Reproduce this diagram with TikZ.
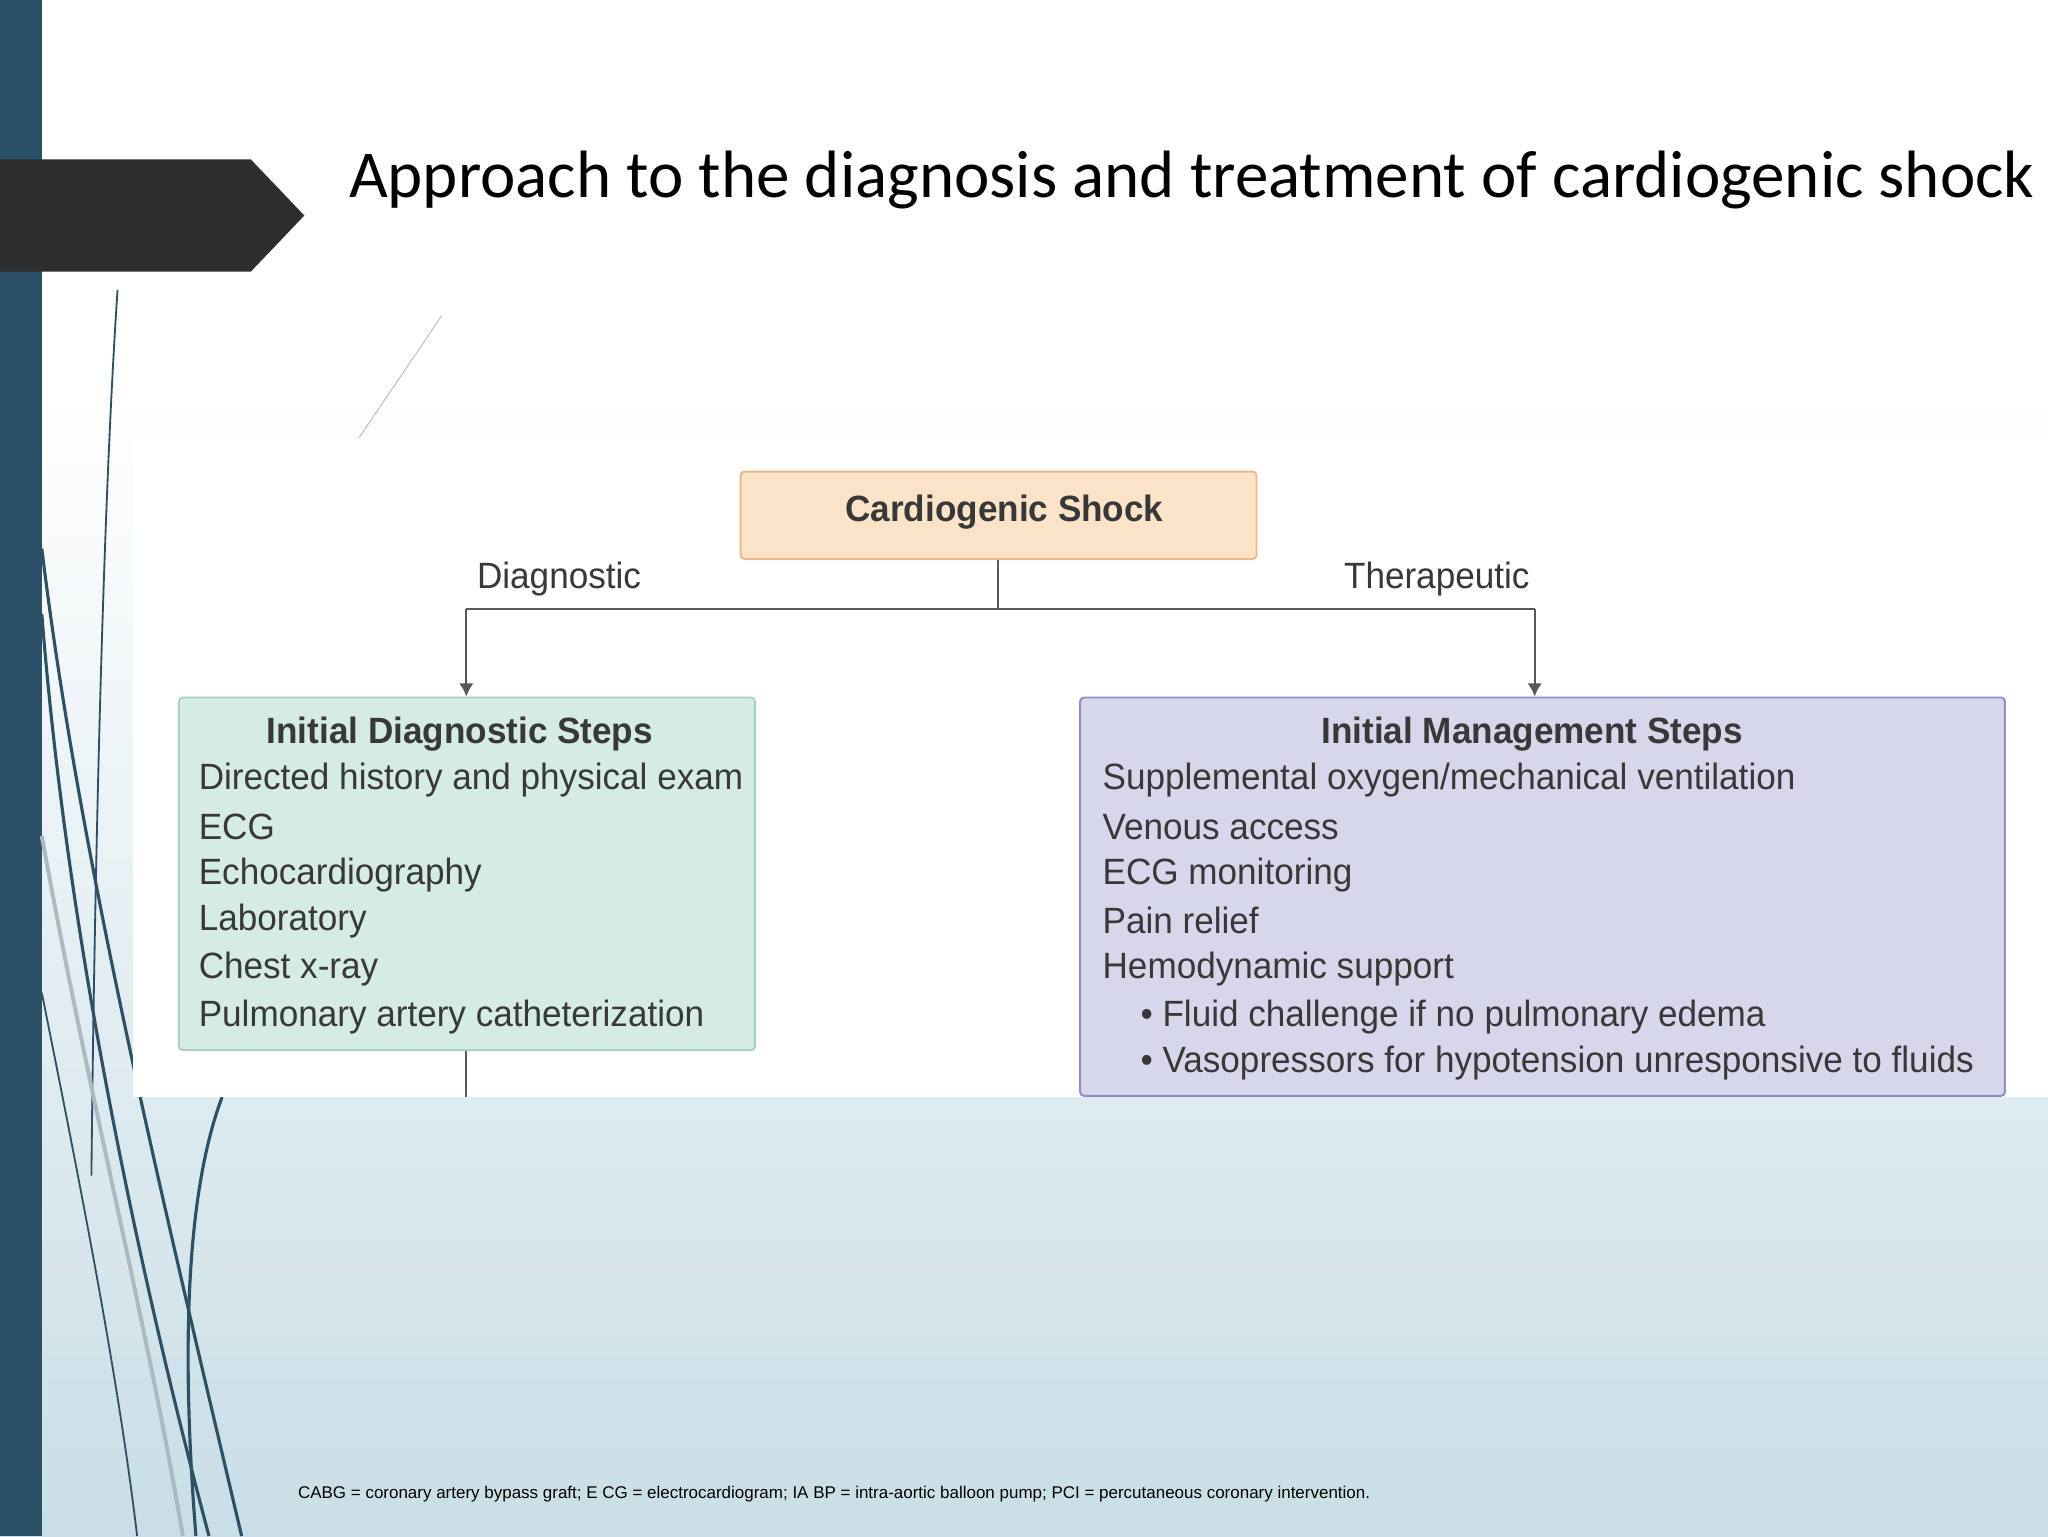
\documentclass[tikz,border=0pt]{standalone}
\usepackage{fontspec}
\usetikzlibrary{arrows.meta}
\setmainfont{Liberation Sans}
\newfontfamily\titlefont{Carlito}
\newfontfamily\dfont[FakeStretch=0.96]{Liberation Sans}
\definecolor{stripe}{HTML}{2C5066}
\definecolor{bgbot}{HTML}{C9DEE6}
\definecolor{csd}{HTML}{E8B98A}
\definecolor{csf}{HTML}{FBE3C8}
\definecolor{lbd}{HTML}{A9D0C5}
\definecolor{lbf}{HTML}{D5ECE6}
\definecolor{rbd}{HTML}{8F8FC7}
\definecolor{rbf}{HTML}{D7D7EC}
\begin{document}
\begin{tikzpicture}[x=1pt,y=-1pt,
  ln/.style={anchor=west,inner sep=0,font=\dfont\fontsize{28}{30}\selectfont,text=black!78},
  hd/.style={anchor=center,inner sep=0,font=\dfont\bfseries\fontsize{28}{30}\selectfont,text=black!78},
  conn/.style={draw=black!65,line width=1.6pt},
  arr/.style={conn,-{Latex[length=10pt,width=11pt]},draw=black!65},
  sw/.style={draw=stripe,line width=2.4pt},
  bx/.style={rounded corners=3pt,line width=1.5pt,inner sep=0}]
\useasboundingbox (0,0) rectangle (1568,1176);
\fill[white] (0,0) rectangle (1568,300);
\shade[top color=white,bottom color=bgbot] (0,300) rectangle (1568,1176);
\fill[stripe] (0,0) rectangle (32,1176);
% curves
\draw[sw,line width=1.4pt] (90,222) .. controls (78,400) and (72,700) .. (70,900);
\draw[sw] (32,420) .. controls (60,650) and (120,900) .. (185,1176);
\draw[sw] (32,470) .. controls (50,700) and (100,950) .. (160,1176);
\draw[draw=stripe!40,line width=3pt] (32,640) .. controls (70,850) and (110,1000) .. (140,1176);
\draw[sw] (170,840) .. controls (140,920) and (140,1050) .. (150,1176);
\draw[sw,line width=1.4pt] (32,760) .. controls (60,900) and (90,1050) .. (105,1176);
\draw[black!25,line width=0.8pt] (338,242) -- (275,335);
% header arrow
\fill[black!82] (0,122) -- (192,122) -- (233,165) -- (192,208) -- (0,208) -- cycle;
\node[anchor=west,inner sep=0,font=\titlefont\fontsize{51.3}{53}\selectfont] (title) at (267,138) {Approach to the diagnosis and treatment of cardiogenic shock};
% white panel
\fill[white] (102,338) rectangle (1568,840);
% boxes
\node[bx,draw=csd,fill=csf,minimum width=395pt,minimum height=67pt] (cs) at (764.5,394.5) {};
\node[hd] (cst) at (769,392) {Cardiogenic Shock};
\node[bx,draw=lbd,fill=lbf,minimum width=441pt,minimum height=270pt] (lb) at (357.5,669) {};
\node[bx,draw=rbd,fill=rbf,minimum width=708pt,minimum height=305pt] (rb) at (1181,686.5) {};
\coordinate (j) at (764,466);
\coordinate (jl) at (357,466);
\coordinate (jr) at (1175,466);
\coordinate (lbot) at (357,840);
\draw[conn] (cs.south -| j) -- (j);
\draw[conn] (jl) -- (jr);
\draw[arr] (jl) -- (jl |- lb.north);
\draw[arr] (jr) -- (jr |- rb.north);
\draw[conn] (jl |- lb.south) -- (lbot);
\node[ln,anchor=center] (dl) at (428,443) {Diagnostic};
\node[ln,anchor=center] (tl) at (1100,443) {Therapeutic};
% left text
\node[hd] (l0) at (352,562) {Initial Diagnostic Steps};
\node[ln] (l1) at (152,597) {Directed history and physical exam};
\node[ln] (l2) at (152,633) {ECG};
\node[ln] (l3) at (152,670) {Echocardiography};
\node[ln] (l4) at (152,705) {Laboratory};
\node[ln] (l5) at (152,742) {Chest x-ray};
\node[ln] (l6) at (152,779) {Pulmonary artery catheterization};
% right text
\node[hd] (r0) at (1173,562) {Initial Management Steps};
\node[ln] (r1) at (844,597) {Supplemental oxygen/mechanical ventilation};
\node[ln] (r2) at (844,633) {Venous access};
\node[ln] (r3) at (844,670) {ECG monitoring};
\node[ln] (r4) at (844,705) {Pain relief};
\node[ln] (r5) at (844,742) {Hemodynamic support};
\node[ln] (r6) at (873,779) {\textbullet\ Fluid challenge if no pulmonary edema};
\node[ln] (r7) at (873,814) {\textbullet\ Vasopressors for hypotension unresponsive to fluids};
% footer
\node[anchor=west,inner sep=0,font=\fontsize{13}{15}\selectfont] (foot) at (228,1144) {CABG = coronary artery bypass graft; E CG = electrocardiogram; IA BP = intra-aortic balloon pump; PCI = percutaneous coronary intervention.};
\end{tikzpicture}
\end{document}
